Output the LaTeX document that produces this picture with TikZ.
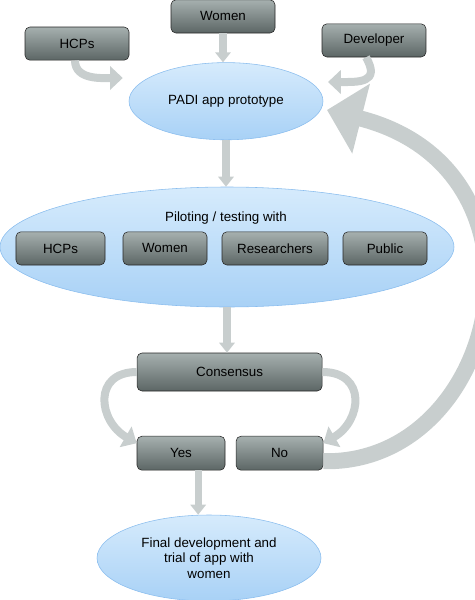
\documentclass[tikz,border=0pt]{standalone}
\usepackage{fontspec}
\setmainfont{Liberation Sans}
\usetikzlibrary{arrows.meta,shapes.geometric,positioning}
\definecolor{boxtop}{RGB}{166,176,175}
\definecolor{boxbot}{RGB}{92,102,101}
\definecolor{blutop}{RGB}{214,235,252}
\definecolor{blubot}{RGB}{168,209,246}
\definecolor{bluline}{RGB}{138,189,238}
\definecolor{arrgray}{RGB}{200,206,206}
\begin{document}
\begin{tikzpicture}[>={Triangle[length=.25cm,width=.38cm]},
box/.style={draw=black!85,rounded corners=3.5pt,top color=boxtop,bottom color=boxbot,minimum height=.83cm,font=\fontsize{9.5}{11}\selectfont},
oval/.style={ellipse,draw=bluline,top color=blutop,bottom color=blubot,inner sep=0pt,font=\fontsize{9.5}{11}\selectfont},
flow/.style={->,line width=.18cm,arrgray},
curvearrow/.style={line width=.2cm,arrgray,-{Triangle[length=.32cm,width=.58cm]}}]
\useasboundingbox (0,0) rectangle (11.85,-15);
\node[box,minimum width=2.6cm] (women) at (5.575,-.41) {Women};
\node[box,minimum width=2.6cm] (hcps) at (1.925,-1.09) {HCPs};
\node[box,minimum width=2.6cm] (dev) at (9.35,-1.01) {Developer};
\node[oval,minimum width=4.85cm,minimum height=1.93cm] (padi) at (5.65,-2.53) {PADI app prototype};
\node[oval,minimum width=11.35cm,minimum height=3cm] (pilot) at (5.675,-6.175) {};
\node[font=\fontsize{9.5}{11}\selectfont] (pilottxt) at (5.65,-5.45) {Piloting / testing with};
\node[box,minimum width=2.225cm] (phcps) at (1.5125,-6.21) {HCPs};
\node[box,minimum width=2.1cm] (pwomen) at (4.125,-6.21) {Women};
\node[box,minimum width=2.65cm] (presearch) at (6.875,-6.21) {Researchers};
\node[box,minimum width=2.1cm] (ppublic) at (9.625,-6.21) {Public};
\node[box,minimum width=4.625cm,minimum height=.95cm] (cons) at (5.74,-9.3) {Consensus};
\node[box,minimum width=2.2cm,minimum height=.85cm] (yes) at (4.525,-11.33) {Yes};
\node[box,minimum width=2.175cm,minimum height=.85cm] (no) at (6.99,-11.33) {No};
\node[oval,minimum width=5.6cm,minimum height=2.15cm,align=center] (final) at (5.225,-13.95) {Final development and\\trial of app with\\women};
\coordinate (hcpsin) at (3.07,-1.95);
\coordinate (devin) at (8.2,-2.05);
\coordinate (back) at (8.175,-2.75);
\draw[flow] (women.south) -- (women.south |- padi.north);
\draw[flow] (padi.south) -- (padi.south |- pilot.north);
\draw[flow] (pilot.south) -- (pilot.south |- cons.north);
\draw[flow] ([xshift=.43cm]yes.south) -- ([xshift=.43cm]yes.south |- final.north);
\draw[curvearrow] ([xshift=-.05cm]hcps.south) to[out=-90,in=180] (hcpsin);
\draw[curvearrow] ([xshift=-.2cm]dev.south) to[out=-60,in=0,looseness=1.7] (devin);
\draw[curvearrow] (cons.west) to[out=180,in=150,looseness=1.6] ([yshift=.25cm]yes.west);
\draw[curvearrow] (cons.east) to[out=0,in=30,looseness=1.6] ([yshift=.25cm]no.east);
\draw[line width=.4cm,arrgray,-{Triangle[length=.88cm,width=1.75cm]}] ([yshift=-.2cm]no.east) .. controls (12.5,-11.625) and (14.1,-4.25) .. (back);
\end{tikzpicture}
\end{document}
